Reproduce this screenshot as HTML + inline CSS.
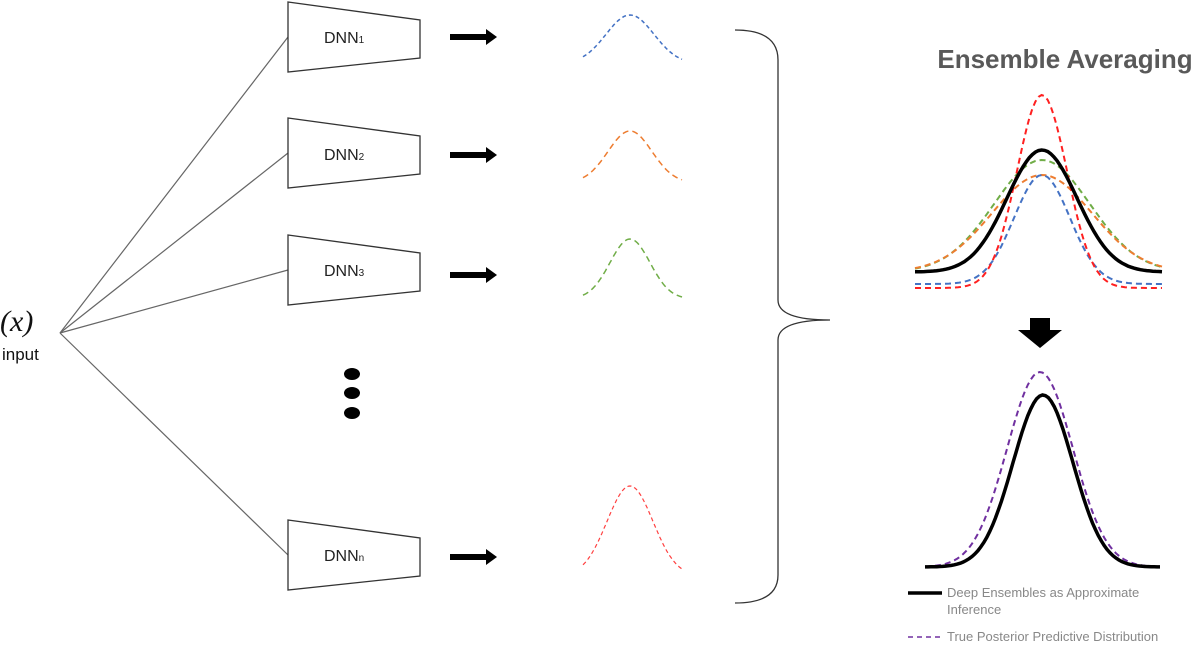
<!DOCTYPE html>
<html><head><meta charset="utf-8"><style>
html,body{margin:0;padding:0;background:#fff;width:1200px;height:646px;overflow:hidden}
svg{position:absolute;left:0;top:0}
</style></head><body>
<svg id="s" width="1200" height="646" viewBox="0 0 1200 646" xmlns="http://www.w3.org/2000/svg" font-family="Liberation Sans, sans-serif">
<g stroke="#666" stroke-width="1.2" fill="none">
<line x1="60" y1="333" x2="288" y2="37"/>
<line x1="60" y1="333" x2="288" y2="153"/>
<line x1="60" y1="333" x2="288" y2="270"/>
<line x1="60" y1="333" x2="288" y2="555"/>
</g>
<g stroke="#333" stroke-width="1.3" fill="#fff">
<polygon points="288,2 420,20 420,58 288,72"/>
<polygon points="288,118 420,136 420,174 288,188"/>
<polygon points="288,235 420,253 420,291 288,305"/>
<polygon points="288,520 420,538 420,576 288,590"/>
</g>
<g font-size="16" fill="#222">
<text x="324" y="43">DNN<tspan font-size="10">1</tspan></text>
<text x="324" y="160">DNN<tspan font-size="10">2</tspan></text>
<text x="324" y="276">DNN<tspan font-size="10">3</tspan></text>
<text x="324" y="561">DNN<tspan font-size="10">n</tspan></text>
</g>
<g fill="#000">
<polygon points="450,34 486,34 486,29 497,37 486,45 486,40 450,40"/>
<polygon points="450,152 486,152 486,147 497,155 486,163 486,158 450,158"/>
<polygon points="450,272 486,272 486,267 497,275 486,283 486,278 450,278"/>
<polygon points="450,554 486,554 486,549 497,557 486,565 486,560 450,560"/>
<ellipse cx="352" cy="374" rx="8" ry="6"/>
<ellipse cx="352" cy="393" rx="8" ry="6"/>
<ellipse cx="352" cy="413" rx="8" ry="6"/>
<polygon points="1030,318 1050,318 1050,330 1062,330 1040,348 1018,330 1030,330"/>
</g>
<text x="0" y="331" font-family="Liberation Serif, serif" font-style="italic" font-size="30" fill="#111">(<tspan>x</tspan>)</text>
<text x="2" y="360" font-size="17" fill="#111">input</text>
<path d="M735,30 Q778,30 778,60 L778,300 Q778,320 830,320 Q778,320 778,340 L778,575 Q778,603 735,603" fill="none" stroke="#333" stroke-width="1.3"/>
<text x="1065" y="68" text-anchor="middle" font-size="26" font-weight="bold" fill="#595959">Ensemble Averaging</text>
<g id="curves" fill="none"></g>
<line x1="908" y1="593" x2="942" y2="593" stroke="#000" stroke-width="3.5"/>
<line x1="908" y1="637" x2="942" y2="637" stroke="#7030a0" stroke-width="1.5" stroke-dasharray="5,4"/>
<g font-size="13" fill="#888">
<text x="947" y="597">Deep Ensembles as Approximate</text>
<text x="947" y="614">Inference</text>
<text x="947" y="641">True Posterior Predictive Distribution</text>
</g>
</svg>
<script>
var g=document.getElementById('curves');
function add(d,c,w,da){var p=document.createElementNS('http://www.w3.org/2000/svg','path');p.setAttribute('d',d);p.setAttribute('stroke',c);p.setAttribute('stroke-width',w);if(da)p.setAttribute('stroke-dasharray',da);g.appendChild(p);}
function gauss(x0,x1,cx,base,peak,sig,dip,dsig){var d='';for(var i=0;i<=80;i++){var x=x0+(x1-x0)*i/80;var t=(x-cx)/sig;var y=base-(base-peak)*Math.exp(-t*t/2);if(dip){var u=(x-cx)/dsig;y+=dip*(u*u/9)*Math.exp(-u*u/8);}d+=(i?'L':'M')+x.toFixed(1)+','+y.toFixed(1);}return d;}
// small curves
add(gauss(583,682,630,64,15,24),'#4472c4',1.5,'4,3');
add(gauss(583,682,630,183,131,22),'#ed7d31',1.5,'6,4');
add(gauss(583,682,630,299,239,20),'#70ad47',1.5,'6,4');
add(gauss(583,682,630,576,486,23),'#ff4040',1.2,'4,3');
// top plot
add(gauss(915,1162,1042,272,160,48),'#70ad47',2,'6,4');
add(gauss(915,1162,1042,272,175,50),'#ed7d31',2,'6,4');
add(gauss(915,1162,1042,284,175,28,0,0),'#4472c4',2,'6,4');
add(gauss(915,1162,1042,288,95,25),'#ff2020',2,'6,4');
add(gauss(915,1162,1042,272,150,35),'#000',3.5);
// bottom plot
add(gauss(925,1160,1040,567,372,33),'#7030a0',2,'6,4');
add(gauss(925,1160,1043,567,395,30),'#000',3.5);
</script>
</body></html>
